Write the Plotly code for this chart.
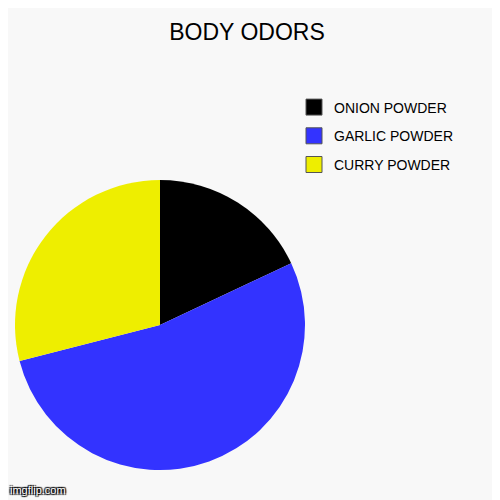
import plotly.graph_objects as go

labels = ["ONION POWDER", "GARLIC POWDER", "CURRY POWDER"]
values = [18, 53, 29]
colors = ["#000000", "#3333ff", "#eeee00"]

fig = go.Figure()

fig.add_trace(go.Pie(labels=labels, values=values, sort=False, direction="clockwise",
                     rotation=0, marker=dict(colors=colors), textinfo="none",
                     hoverinfo="label+percent", showlegend=False,
                     domain=dict(x=[0.014, 0.594], y=[0.076, 0.656])))

# legend entries with bordered square swatches
for lab, col in zip(labels, colors):
    fig.add_trace(go.Scatter(x=[None], y=[None], mode="markers", name=lab, legendgroup=lab,
                             marker=dict(symbol="square", size=16, color=col,
                                         line=dict(color="#555555", width=1))))

fig.add_annotation(text="imgflip.com", x=0, y=0.02, xref="paper", yref="paper",
                   xanchor="left", yanchor="bottom", showarrow=False,
                   font=dict(family="Liberation Sans", size=11, color="white",
                             shadow="1px 1px 1px #000, -1px -1px 1px #000, 1px -1px 1px #000, -1px 1px 1px #000"))

fig.update_layout(width=500, height=500, margin=dict(l=0, r=0, t=0, b=0),
                  paper_bgcolor="#f8f8f8", plot_bgcolor="#f8f8f8",
                  font=dict(family="Liberation Sans", color="#000000"),
                  title=dict(text="BODY ODORS", x=0.478, xanchor="center", y=0.952, yanchor="middle",
                             font=dict(size=23, color="#000000")),
                  xaxis=dict(visible=False), yaxis=dict(visible=False),
                  legend=dict(x=0.572, y=0.833, xanchor="left", yanchor="top", traceorder="grouped",
                              tracegroupgap=7.5, font=dict(size=14), bgcolor="rgba(0,0,0,0)"))

fig.write_html("out.html")
